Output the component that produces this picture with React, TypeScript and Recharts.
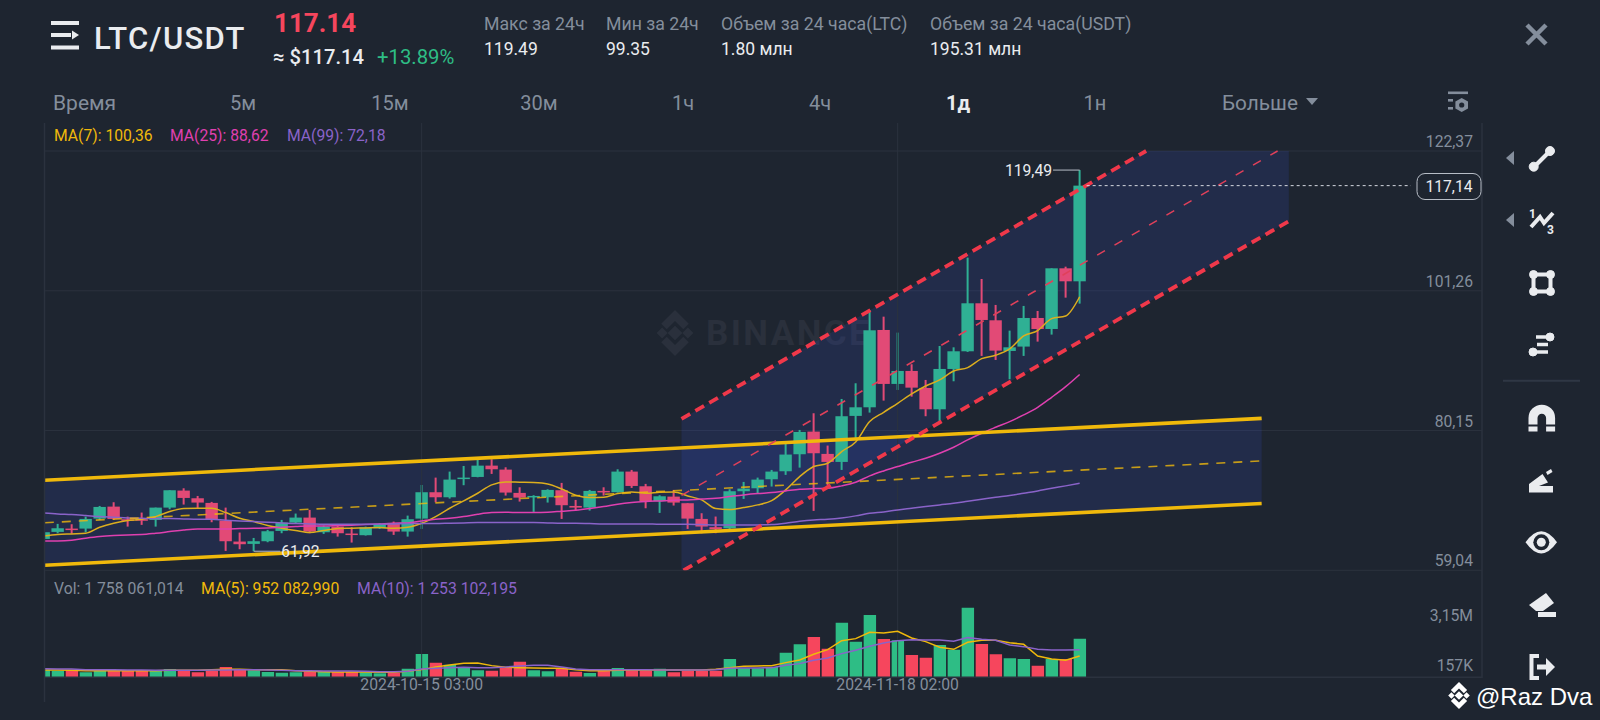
import { Area, Bar, CartesianGrid, Cell, ComposedChart, Line, ReferenceDot, ReferenceLine, XAxis, YAxis } from "recharts";

// Candle values, one entry per day
const opens = [63.78, 64.84, 65.34, 65.34, 66.85, 68.66, 66.75, 66.75, 66.65, 68.51, 71.08, 69.92, 69.22, 66.55, 63.38, 63.03, 63.43, 64.99, 66.25, 67.0, 64.79, 65.64, 64.59, 64.34, 65.39, 66.2, 64.89, 66.85, 70.83, 70.07, 72.84, 73.14, 74.85, 74.25, 70.73, 70.07, 70.07, 71.13, 68.76, 68.51, 71.03, 70.83, 73.95, 71.73, 69.47, 70.17, 69.17, 66.8, 65.55, 65.39, 70.98, 71.43, 72.79, 74.0, 76.57, 79.99, 76.62, 75.41, 82.36, 83.66, 95.34, 87.19, 89.15, 86.58, 83.36, 89.45, 92.12, 99.37, 96.8, 92.17, 92.83, 97.15, 95.49, 104.65, 102.69];
const closes = [64.79, 65.39, 65.19, 66.8, 68.61, 66.8, 66.5, 66.55, 68.51, 71.13, 69.97, 69.27, 66.75, 63.43, 62.98, 63.43, 64.94, 66.25, 67.0, 64.89, 65.64, 64.64, 64.39, 65.54, 66.05, 64.89, 66.75, 70.83, 70.07, 72.74, 73.04, 74.85, 74.3, 70.78, 70.02, 70.27, 71.18, 68.87, 68.51, 71.03, 70.83, 73.95, 71.78, 69.47, 70.22, 69.27, 66.85, 65.65, 65.24, 70.98, 71.38, 72.74, 73.95, 76.52, 79.94, 76.72, 75.41, 82.31, 83.66, 95.29, 87.19, 89.15, 86.63, 83.36, 89.45, 92.12, 99.37, 96.85, 92.22, 92.72, 97.15, 95.49, 104.65, 102.69, 117.14];
const highs = [65.0, 66.05, 66.0, 67.15, 68.76, 69.32, 67.15, 67.76, 68.51, 71.13, 71.43, 70.27, 69.37, 68.51, 64.74, 63.93, 65.14, 66.65, 67.61, 68.16, 65.8, 65.75, 65.54, 65.64, 66.15, 66.4, 67.3, 71.93, 73.04, 73.95, 74.8, 75.71, 75.81, 74.6, 71.58, 70.38, 71.28, 72.24, 69.67, 71.18, 71.58, 74.3, 74.2, 72.09, 70.38, 71.18, 69.17, 67.66, 67.16, 71.28, 72.39, 73.04, 74.2, 78.13, 80.24, 82.76, 77.88, 84.92, 87.29, 98.36, 97.35, 94.94, 90.16, 87.79, 92.92, 92.72, 106.26, 103.04, 99.12, 95.24, 98.97, 98.21, 104.65, 104.9, 119.49];
const lows = [63.6, 64.64, 64.54, 64.79, 66.65, 66.65, 65.64, 65.9, 65.64, 68.26, 68.97, 68.46, 66.3, 61.97, 62.22, 61.92, 63.28, 64.64, 66.15, 64.64, 64.54, 64.13, 63.23, 64.29, 65.29, 64.39, 64.13, 65.29, 69.32, 69.87, 71.89, 73.09, 73.6, 70.33, 69.42, 67.86, 69.27, 66.8, 68.06, 68.06, 70.33, 70.78, 71.48, 68.41, 67.71, 68.82, 65.29, 64.64, 64.64, 65.14, 69.82, 70.68, 71.69, 73.45, 74.55, 68.01, 71.84, 74.2, 78.73, 82.86, 84.67, 86.28, 85.27, 82.31, 81.5, 87.59, 92.02, 91.42, 90.81, 87.89, 91.42, 93.58, 94.64, 100.22, 99.32];

const ma7 = [64.23, 64.44, 64.54, 64.64, 65.54, 66.15, 66.55, 66.75, 67.15, 67.91, 68.36, 68.41, 68.41, 67.76, 66.9, 66.4, 65.8, 65.39, 65.04, 64.74, 65.04, 65.34, 65.39, 65.44, 65.49, 65.39, 65.54, 66.15, 67.15, 68.41, 69.52, 70.68, 71.94, 72.39, 72.34, 72.29, 72.09, 71.33, 70.38, 70.02, 70.07, 70.63, 70.88, 70.68, 70.83, 70.88, 70.27, 69.67, 68.36, 68.21, 68.51, 68.92, 69.57, 71.18, 73.19, 74.71, 75.21, 76.97, 78.43, 81.5, 82.91, 84.27, 85.68, 86.88, 87.79, 89.15, 89.65, 91.01, 91.52, 92.47, 94.43, 95.24, 97.05, 97.45, 100.36];
const ma25 = [63.48, 63.48, 63.58, 63.88, 64.13, 64.29, 64.39, 64.44, 64.64, 64.89, 65.14, 65.29, 65.29, 65.29, 65.34, 65.39, 65.44, 65.54, 65.64, 65.75, 65.75, 65.8, 65.85, 65.95, 66.05, 66.15, 66.2, 66.5, 66.75, 66.9, 67.15, 67.51, 67.76, 67.81, 67.76, 67.76, 67.81, 67.96, 68.11, 68.36, 68.66, 69.02, 69.27, 69.42, 69.52, 69.62, 69.67, 69.82, 69.92, 70.18, 70.43, 70.63, 70.78, 71.03, 71.28, 71.38, 71.43, 71.79, 72.34, 73.3, 74.05, 74.71, 75.36, 75.96, 76.72, 77.62, 78.73, 79.74, 80.64, 81.5, 82.51, 83.66, 85.17, 86.78, 88.62];
const ma99 = [67.71, 67.56, 67.46, 67.31, 67.15, 67.05, 66.95, 66.9, 66.85, 66.85, 66.8, 66.75, 66.75, 66.6, 66.5, 66.4, 66.3, 66.2, 66.1, 66.05, 66.0, 66.0, 66.0, 66.0, 66.0, 66.05, 66.1, 66.1, 66.1, 66.15, 66.2, 66.25, 66.25, 66.25, 66.25, 66.25, 66.2, 66.15, 66.15, 66.1, 66.05, 66.05, 66.05, 66.05, 66.0, 66.0, 66.0, 65.95, 65.9, 65.9, 65.9, 65.9, 65.95, 66.15, 66.45, 66.65, 66.75, 66.95, 67.26, 67.66, 67.86, 68.16, 68.41, 68.66, 68.92, 69.17, 69.47, 69.77, 70.07, 70.33, 70.68, 71.03, 71.43, 71.79, 72.18];

// Volume in thousands
const volumes = [460, 400, 420, 300, 400, 400, 400, 400, 400, 500, 400, 300, 400, 620, 460, 420, 320, 280, 300, 360, 320, 320, 320, 300, 240, 280, 520, 1400, 880, 760, 600, 420, 400, 560, 940, 420, 360, 500, 340, 260, 420, 560, 440, 420, 520, 300, 400, 400, 400, 1100, 540, 540, 620, 1480, 1980, 2420, 1720, 3280, 2140, 3740, 2300, 2220, 1340, 1180, 1940, 1660, 4180, 2000, 1380, 1140, 1100, 700, 1100, 1100, 2320];
const volMa5 = [440, 440, 420, 400, 400, 400, 400, 400, 400, 420, 420, 420, 460, 480, 480, 460, 460, 460, 400, 360, 340, 320, 320, 320, 300, 300, 360, 460, 620, 740, 840, 860, 700, 600, 580, 560, 540, 540, 460, 400, 400, 420, 440, 440, 440, 440, 440, 440, 480, 580, 660, 680, 700, 880, 1040, 1380, 1660, 2200, 2320, 2700, 2660, 2760, 2360, 2140, 1800, 1680, 2100, 2220, 2220, 2080, 1980, 1280, 1100, 1020, 1280];
const volMa10 = [520, 500, 500, 460, 460, 460, 440, 440, 420, 420, 420, 420, 440, 440, 460, 460, 440, 420, 400, 400, 380, 380, 380, 360, 340, 340, 360, 500, 540, 580, 600, 580, 580, 620, 680, 720, 720, 620, 500, 460, 460, 460, 460, 460, 440, 440, 440, 440, 460, 540, 560, 560, 580, 720, 820, 1020, 1160, 1420, 1620, 1860, 2060, 2200, 2260, 2240, 2240, 2160, 2380, 2280, 2220, 1940, 1840, 1680, 1640, 1640, 1660];

const priceTicks = [122.37, 101.26, 80.15, 59.04];
const volumeTicks = [157, 3150];
const gridDays = [27, 61];
const gridDayLabels = ["2024-10-15 03:00", "2024-11-18 02:00"];

// Hand drawn channels, start and end of each edge in day / price
const yellowChannel = [
  { day: 0.08, band: [59.81, 72.65], top: 72.65, bottom: 59.81, mid: 66.23 },
  { day: 87, band: [69.14, 81.98], top: 81.98, bottom: 69.14, mid: 75.56 },
];
const redChannelFill = [
  { day: 45.56, band: [59.04, 81.9] },
  { day: 78.75, band: [99.33, 122.37] },
  { day: 88.94, band: [111.78, 122.37] },
];
const redTop = [{ day: 45.56, v: 81.9 }, { day: 78.75, v: 122.37 }];
const redMid = [{ day: 45.56, v: 70.37 }, { day: 88.14, v: 122.37 }];
const redBottom = [{ day: 45.7, v: 59.04 }, { day: 88.94, v: 111.78 }];

const BG = "#1e2530";
const GREY = "#848e9c";
const GRID = "#2b323e";
const WHITE = "#eaecef";
const UP = "#2ebd85";
const DOWN = "#f6465d";
// candles sit under the channel tint in the original
const CANDLE_UP = "#2fb094";
const CANDLE_DOWN = "#e24a76";
const YELLOW = "#f0b90b";
const MA7_LINE = "#dcae1e";
const MAGENTA = "#e040b0";
const PURPLE = "#8a63c9";
const BODY_WIDTH = 12.4;

const rows = opens.map((open, i) => ({
  day: i,
  open,
  close: closes[i],
  high: highs[i],
  low: lows[i],
  range: [lows[i], highs[i]],
  ma7: ma7[i],
  ma25: ma25[i],
  ma99: ma99[i],
  volume: volumes[i],
  volMa5: volMa5[i],
  volMa10: volMa10[i],
}));

const X_DOMAIN: [number, number] = [0.057, 102.74];
const comma = (v: number) => v.toFixed(2).replace(".", ",");

const Candle = (props: any) => {
  const { x, y, width, height, payload } = props;
  const k = height / (payload.high - payload.low);
  const up = payload.close >= payload.open;
  const cx = x + width / 2;
  const top = y + (payload.high - Math.max(payload.open, payload.close)) * k;
  const bodyH = Math.max(Math.abs(payload.open - payload.close) * k, 1.5);
  const fill = up ? CANDLE_UP : CANDLE_DOWN;
  return (
    <g>
      <rect x={cx - 1} y={y} width={2} height={height} fill={fill} />
      <rect x={cx - BODY_WIDTH / 2} y={top} width={BODY_WIDTH} height={bodyH} fill={fill} />
    </g>
  );
};

const AxisLabel = (props: any) => {
  const { y, payload, formatter } = props;
  return (
    <text x={1473} y={y - 4} textAnchor="end" fontSize={15.7} fill={GREY}>
      {formatter(payload.value)}
    </text>
  );
};

const DateTick = (props: any) => {
  const { x, y, payload } = props;
  return (
    <text x={x} y={y + 5} textAnchor="middle" fontSize={15.75} fill={GREY}>
      {gridDayLabels[gridDays.indexOf(payload.value)]}
    </text>
  );
};

const BinanceLogo = ({ cx, cy, s, fill }: { cx: number; cy: number; s: number; fill: string }) => (
  <g transform={`translate(${cx} ${cy}) scale(${s})`} fill={fill}>
    <path d="M0 -3.2 L3.2 0 L0 3.2 L-3.2 0Z" />
    <path d="M-8 0 L-5.6 -2.4 L-3.2 0 L-5.6 2.4Z M8 0 L5.6 -2.4 L3.2 0 L5.6 2.4Z" />
    <path d="M0 -10 L6 -4 L3.6 -1.6 L0 -5.2 L-3.6 -1.6 L-6 -4Z" />
    <path d="M0 10 L6 4 L3.6 1.6 L0 5.2 L-3.6 1.6 L-6 4Z" />
  </g>
);

const tabs = [
  { label: "5м", x: 243 },
  { label: "15м", x: 390 },
  { label: "30м", x: 539 },
  { label: "1ч", x: 683 },
  { label: "4ч", x: 820 },
  { label: "1д", x: 958, active: true },
  { label: "1н", x: 1095 },
];

const stats = [
  { label: "Макс за 24ч", value: "119.49", x: 484 },
  { label: "Мин за 24ч", value: "99.35", x: 606 },
  { label: "Объем за 24 часа(LTC)", value: "1.80 млн", x: 721 },
  { label: "Объем за 24 часа(USDT)", value: "195.31 млн", x: 930 },
];

const Header = () => (
  <svg width={1600} height={720} style={{ position: "absolute", left: 0, top: 0 }}>
    {/* pair icon */}
    <g fill={WHITE}>
      <rect x={51} y={21} width={28} height={4} />
      <rect x={51} y={33} width={20} height={4} />
      <rect x={51} y={45.5} width={28} height={4} />
      <path d="M72 30.5 L79 35 L72 39.5Z" />
    </g>
    <text x={94} y={48.5} fontSize={31} fontWeight={500} letterSpacing={1.3} fill={WHITE}>LTC/USDT</text>
    <text x={274} y={32} fontSize={26} fontWeight={700} fill={DOWN}>117.14</text>
    <text x={273} y={64} fontSize={20.2} fontWeight={500} fill={WHITE}>≈ $117.14</text>
    <text x={377} y={64} fontSize={20.3} fill={UP}>+13.89%</text>

    {stats.map((s) => (
      <g key={s.label}>
        <text x={s.x} y={29.5} fontSize={17.7} fill={GREY}>{s.label}</text>
        <text x={s.x} y={55} fontSize={17.5} fill={WHITE}>{s.value}</text>
      </g>
    ))}

    <text x={53} y={110} fontSize={21} fill={GREY}>Время</text>
    {tabs.map((t) => (
      <text key={t.label} x={t.x} y={110} fontSize={20} textAnchor="middle" fontWeight={t.active ? 700 : 400} fill={t.active ? WHITE : GREY}>
        {t.label}
      </text>
    ))}
    <text x={1222} y={110} fontSize={20.8} fill={GREY}>Больше</text>
    <path d="M1306 98 L1318 98 L1312 105Z" fill={GREY} />

    {/* chart settings */}
    <g fill={GREY}>
      <rect x={1448} y={91.5} width={20} height={2.6} />
      <rect x={1448} y={99} width={5} height={2.6} />
      <rect x={1448} y={107} width={5} height={2.6} />
      <path d="M1461.7 98 L1468 101.6 L1468 108.4 L1461.7 112 L1455.4 108.4 L1455.4 101.6Z" />
      <circle cx={1461.7} cy={105} r={2.6} fill={BG} />
    </g>

    {/* close */}
    <path d="M1527 25 L1546 44 M1546 25 L1527 44" stroke={GREY} strokeWidth={4.5} />

    {/* drawing tools */}
    <g fill={GREY}>
      <path d="M1506 158 L1514 151 L1514 165Z" />
      <path d="M1506 220 L1514 213 L1514 227Z" />
    </g>
    <g fill={WHITE} stroke={WHITE}>
      <line x1={1534} y1={167} x2={1550} y2={151} strokeWidth={4} />
      <circle cx={1533.7} cy={166.7} r={4.5} />
      <circle cx={1550} cy={151} r={4.5} />
      <polyline points="1531,227 1540,217 1544,223 1553,213" fill="none" strokeWidth={4} />
      <rect x={1533.5} y={274.5} width={17} height={17} fill="none" strokeWidth={4} />
      <circle cx={1533.5} cy={274.5} r={4} />
      <circle cx={1550.5} cy={274.5} r={4} />
      <circle cx={1533.5} cy={291.5} r={4} />
      <circle cx={1550.5} cy={291.5} r={4} />
      <line x1={1536} y1={337} x2={1550} y2={337} strokeWidth={3.5} />
      <line x1={1537} y1={344.5} x2={1548} y2={344.5} strokeWidth={3.5} />
      <line x1={1533} y1={352} x2={1548} y2={352} strokeWidth={3.5} />
      <circle cx={1550} cy={337} r={4} />
      <circle cx={1533} cy={352} r={4} />
    </g>
    <text x={1529} y={218} fontSize={12} fontWeight={700} fill={WHITE}>1</text>
    <text x={1547} y={234} fontSize={12} fontWeight={700} fill={WHITE}>3</text>
    <line x1={1503} y1={380.7} x2={1580} y2={380.7} stroke="#2f3744" strokeWidth={2} />
    <g fill={WHITE}>
      <path d="M1528.5 431.5 V418 a13.3 13.3 0 0 1 26.6 0 V431.5 h-9 V418 a4.3 4.3 0 0 0 -8.6 0 V431.5Z" />
      <rect x={1527} y={424.5} width={30} height={2} fill={BG} />
      <path d="M1529 492.5 V484 L1542.5 474 L1548 482.5 L1539 486 H1553 V492.5Z" />
      <path d="M1546 472 L1551 469 L1552.5 472 L1547.5 475Z" />
      <path d="M1525.5 542.3 Q1541.3 520 1557 542.3 Q1541.3 564.5 1525.5 542.3Z" />
      <circle cx={1541.3} cy={542.3} r={8} fill={BG} />
      <circle cx={1541.3} cy={542.3} r={4.5} />
      <path d="M1529 605 L1546 593 L1554 603 L1543 611 L1536 611Z" />
      <rect x={1538} y={612} width={18} height={5} />
      <path d="M1539 656 H1531.5 V678 H1539" fill="none" stroke={WHITE} strokeWidth={4} />
      <rect x={1537} y={664.5} width={11} height={5} />
      <path d="M1546 658 L1555 667 L1546 676Z" />
    </g>

    {/* watermark */}
    <BinanceLogo cx={675} cy={333} s={2.3} fill="#2a303c" />
    <text x={706} y={345} fontSize={35} fontWeight={700} letterSpacing={2.4} fill="#2a303c">BINANCE</text>
  </svg>
);

const Legends = () => (
  <svg width={1600} height={720} style={{ position: "absolute", left: 0, top: 0 }}>
    <text x={54} y={141} fontSize={15.7} fill={YELLOW}>MA(7): 100,36</text>
    <text x={170} y={141} fontSize={15.7} fill={MAGENTA}>MA(25): 88,62</text>
    <text x={287} y={141} fontSize={15.7} fill={PURPLE}>MA(99): 72,18</text>
    <text x={54} y={594} fontSize={15.75} fill={GREY}>Vol: 1 758 061,014</text>
    <text x={201} y={594} fontSize={15.75} fill={YELLOW}>MA(5): 952 082,990</text>
    <text x={357} y={594} fontSize={15.75} fill={PURPLE}>MA(10): 1 253 102,195</text>

    {/* frame */}
    <line x1={44.5} y1={123} x2={44.5} y2={702} stroke={GRID} strokeWidth={1.5} />
    <line x1={1482} y1={123} x2={1482} y2={678} stroke={GRID} strokeWidth={1.5} />

    {/* last price tag */}
    <rect x={1417} y={173.5} width={64} height={26} rx={8} fill={BG} stroke="#b7bdc6" strokeWidth={1} />
    <text x={1449} y={192} textAnchor="middle" fontSize={15.7} fill={WHITE}>117,14</text>

    {/* author mark */}
    <BinanceLogo cx={1459} cy={695.5} s={1.35} fill="#ffffff" />
    <text x={1476} y={705} fontSize={24} fontFamily="'Liberation Sans', Arial, sans-serif" fill="#ffffff">@Raz Dva</text>
  </svg>
);

const PriceChart = () => (
  <ComposedChart
    width={1600}
    height={720}
    data={rows}
    margin={{ top: 123, right: 117, bottom: 149.7, left: 44.5 }}
    style={{ position: "absolute", left: 0, top: 0 }}
  >
    <CartesianGrid stroke={GRID} vertical={false} horizontalValues={priceTicks} />
    <XAxis dataKey="day" type="number" domain={X_DOMAIN} allowDataOverflow hide />
    <YAxis
      type="number"
      orientation="right"
      width={1}
      domain={[59.04, 126.6]}
      allowDataOverflow
      ticks={priceTicks}
      interval={0}
      axisLine={false}
      tickLine={false}
      tick={<AxisLabel formatter={comma} />}
    />
    {gridDays.map((d) => (
      <ReferenceLine key={d} x={d} stroke={GRID} />
    ))}

    <Bar dataKey="range" barSize={BODY_WIDTH} shape={<Candle />} isAnimationActive={false} />
    <Line dataKey="ma7" stroke={MA7_LINE} strokeWidth={1.5} dot={false} type="monotone" isAnimationActive={false} />
    <Line dataKey="ma25" stroke={MAGENTA} strokeWidth={1.5} dot={false} type="monotone" isAnimationActive={false} />
    <Line dataKey="ma99" stroke={PURPLE} strokeWidth={1.5} dot={false} type="monotone" isAnimationActive={false} />

    {/* channels go above the candles, they tint them */}
    <Area data={yellowChannel} dataKey="band" stroke="none" fill="#3a5cff" fillOpacity={0.13} dot={false} isAnimationActive={false} />
    <Line data={yellowChannel} dataKey="top" stroke={YELLOW} strokeWidth={3.6} dot={false} isAnimationActive={false} />
    <Line data={yellowChannel} dataKey="bottom" stroke={YELLOW} strokeWidth={3.6} dot={false} isAnimationActive={false} />
    <Line data={yellowChannel} dataKey="mid" stroke={YELLOW} strokeOpacity={0.8} strokeWidth={1.6} strokeDasharray="9 8" dot={false} isAnimationActive={false} />

    <Area data={redChannelFill} dataKey="band" stroke="none" fill="#3a5cff" fillOpacity={0.13} dot={false} isAnimationActive={false} />
    <Line data={redTop} dataKey="v" stroke="#f0384a" strokeWidth={3.8} strokeDasharray="10 6" dot={false} isAnimationActive={false} />
    <Line data={redBottom} dataKey="v" stroke="#f0384a" strokeWidth={3.8} strokeDasharray="10 6" dot={false} isAnimationActive={false} />
    <Line data={redMid} dataKey="v" stroke="#e0405a" strokeWidth={1.5} strokeDasharray="9 11" dot={false} isAnimationActive={false} />

    {/* last price and extremes */}
    <ReferenceLine segment={[{ x: 74.5, y: 117.14 }, { x: 97.66, y: 117.14 }]} stroke="#d5d9df" strokeDasharray="3 3" />
    <ReferenceLine segment={[{ x: 72.1, y: 119.49 }, { x: 74, y: 119.49 }]} stroke="#b7bdc6" />
    <ReferenceDot
      x={72.1}
      y={119.49}
      r={0}
      stroke="none"
      label={{ value: "119,49", position: "left", offset: 1, fontSize: 15.7, fill: WHITE }}
    />
    <ReferenceLine segment={[{ x: 15, y: 61.92 }, { x: 16.9, y: 61.92 }]} stroke="#b7bdc6" />
    <ReferenceDot
      x={16.9}
      y={61.92}
      r={0}
      stroke="none"
      label={{ value: "61,92", position: "right", offset: 1, fontSize: 15.7, fill: WHITE }}
    />
  </ComposedChart>
);

const VolumeChart = () => (
  <ComposedChart
    width={1600}
    height={150}
    data={rows}
    margin={{ top: 0.3, right: 117, bottom: 0, left: 44.5 }}
    style={{ position: "absolute", left: 0, top: 570 }}
  >
    <XAxis
      dataKey="day"
      type="number"
      domain={X_DOMAIN}
      allowDataOverflow
      ticks={gridDays}
      interval={0}
      axisLine={false}
      tickLine={false}
      height={42.7}
      tick={<DateTick />}
    />
    <YAxis
      type="number"
      orientation="right"
      width={1}
      domain={[0, 6420]}
      ticks={volumeTicks}
      interval={0}
      axisLine={false}
      tickLine={false}
      tick={<AxisLabel formatter={(v: number) => (v >= 1000 ? comma(v / 1000) + "M" : v + "K")} />}
    />
    {gridDays.map((d) => (
      <ReferenceLine key={d} x={d} stroke={GRID} />
    ))}
    <ReferenceLine y={0} stroke={GRID} strokeWidth={1.5} />
    <Bar dataKey="volume" barSize={BODY_WIDTH} isAnimationActive={false}>
      {rows.map((r) => (
        <Cell key={r.day} fill={r.close >= r.open ? UP : DOWN} />
      ))}
    </Bar>
    <Line dataKey="volMa5" stroke={YELLOW} strokeWidth={1.5} dot={false} isAnimationActive={false} />
    <Line dataKey="volMa10" stroke={PURPLE} strokeWidth={1.5} dot={false} isAnimationActive={false} />
  </ComposedChart>
);

export default function App() {
  return (
    <div
      style={{
        position: "fixed",
        left: 0,
        top: 0,
        width: 1600,
        height: 720,
        overflow: "hidden",
        background: BG,
        fontFamily: "Roboto, sans-serif",
      }}
    >
      <Header />
      <PriceChart />
      <VolumeChart />
      <Legends />
    </div>
  );
}
